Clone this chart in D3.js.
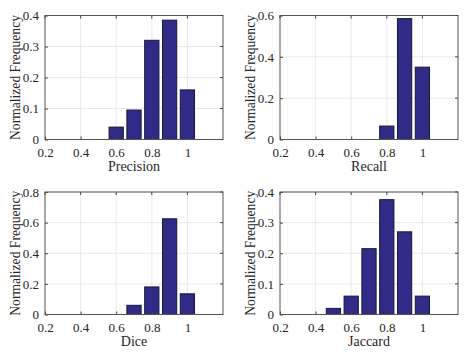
<!DOCTYPE html>
<html><head><meta charset="utf-8">
<script src="https://cdn.jsdelivr.net/npm/d3@7"></script>
<style>
html,body{margin:0;padding:0;background:#fff;}
svg{display:block;}
</style></head>
<body>
<svg id="c" width="474" height="355"></svg>
<script>
const binCenters = [0.3, 0.4, 0.5, 0.6, 0.7, 0.8, 0.9, 1.0];
const precision = [0, 0, 0, 0.04, 0.095, 0.32, 0.385, 0.16];
const recall    = [0, 0, 0, 0, 0, 0.065, 0.585, 0.35];
const dice      = [0, 0, 0, 0, 0.06, 0.18, 0.625, 0.135];
const jaccard   = [0, 0, 0.02, 0.06, 0.215, 0.375, 0.27, 0.06];
const xTicks = [0.2, 0.4, 0.6, 0.8, 1];
const xLabels = ["Precision", "Recall", "Dice", "Jaccard"];
const yMaxes = [0.4, 0.6, 0.8, 0.4];
const yTicksList = [[0, 0.1, 0.2, 0.3, 0.4], [0, 0.2, 0.4, 0.6], [0, 0.2, 0.4, 0.6, 0.8], [0, 0.1, 0.2, 0.3, 0.4]];
const yLabel = "Normalized Frequency";
const series = [precision, recall, dice, jaccard];

const FONT = "'Liberation Serif', 'Times New Roman', serif";
const svg = d3.select("#c");
const panels = [
  {x0:45, x1:223, y0:15.5, y1:139.5},
  {x0:280, x1:458, y0:15.5, y1:139.5},
  {x0:45, x1:223, y0:192, y1:314.5},
  {x0:280, x1:458, y0:192, y1:314.5}
];
const barWidth = 0.08;

panels.forEach((p, i) => {
  const x = d3.scaleLinear().domain([0.2, 1.2]).range([p.x0, p.x1]);
  const y = d3.scaleLinear().domain([0, yMaxes[i]]).range([p.y1, p.y0]);
  const g = svg.append("g");
  g.selectAll(".gx").data(xTicks.slice(1)).enter().append("line")
    .attr("x1", d => x(d)).attr("x2", d => x(d)).attr("y1", p.y0).attr("y2", p.y1)
    .attr("stroke", "#e3e3e3").attr("stroke-width", 0.8);
  g.selectAll(".gy").data(yTicksList[i].slice(1)).enter().append("line")
    .attr("x1", p.x0).attr("x2", p.x1).attr("y1", d => y(d)).attr("y2", d => y(d))
    .attr("stroke", "#e3e3e3").attr("stroke-width", 0.8);
  const data = binCenters.map((c, k) => ({c, v: series[i][k]})).filter(d => d.v > 0);
  g.selectAll("rect").data(data).enter().append("rect")
    .attr("x", d => x(d.c - barWidth/2))
    .attr("width", d => x(d.c + barWidth/2) - x(d.c - barWidth/2))
    .attr("y", d => y(d.v))
    .attr("height", d => y(0) - y(d.v))
    .attr("fill", "#2f2b86").attr("stroke", "#17163d").attr("stroke-width", 1);
  const xa = d3.axisBottom(x).tickValues(xTicks).tickFormat(d3.format("~g")).tickSizeInner(-3).tickSizeOuter(0).tickPadding(8);
  const ya = d3.axisLeft(y).tickValues(yTicksList[i]).tickFormat(d3.format("~g")).tickSizeInner(-3).tickSizeOuter(0).tickPadding(6);
  const gx = g.append("g").attr("transform", `translate(0,${p.y1})`).call(xa);
  const gy = g.append("g").attr("transform", `translate(${p.x0},0)`).call(ya);
  [gx, gy].forEach(a => {
    a.attr("font-family", null).attr("font-size", null);
    a.select(".domain").remove();
    a.selectAll(".tick line").attr("stroke", "#444");
    a.selectAll(".tick text").style("font-family", FONT).style("font-size", "13px").attr("fill", "#262626");
  });
  g.append("rect").attr("x", p.x0).attr("y", p.y0).attr("width", p.x1 - p.x0).attr("height", p.y1 - p.y0)
    .attr("fill", "none").attr("stroke", "#555").attr("stroke-width", 1);
  g.selectAll(".tt").data(xTicks).enter().append("line")
    .attr("x1", d => x(d)).attr("x2", d => x(d)).attr("y1", p.y0).attr("y2", p.y0 + 3).attr("stroke", "#444");
  g.selectAll(".rt").data(yTicksList[i]).enter().append("line")
    .attr("x1", p.x1).attr("x2", p.x1 - 3).attr("y1", d => y(d)).attr("y2", d => y(d)).attr("stroke", "#444");
  g.append("text").attr("x", (p.x0 + p.x1) / 2).attr("y", p.y1 + 31)
    .attr("text-anchor", "middle").style("font-family", FONT).style("font-size", "14px").attr("fill", "#262626").text(xLabels[i]);
  g.append("text").attr("transform", `translate(${p.x0 - 25},${(p.y0 + p.y1) / 2}) rotate(-90)`)
    .attr("text-anchor", "middle").style("font-family", FONT).style("font-size", "13.6px").attr("fill", "#262626").text(yLabel);
});
</script>
</body></html>
